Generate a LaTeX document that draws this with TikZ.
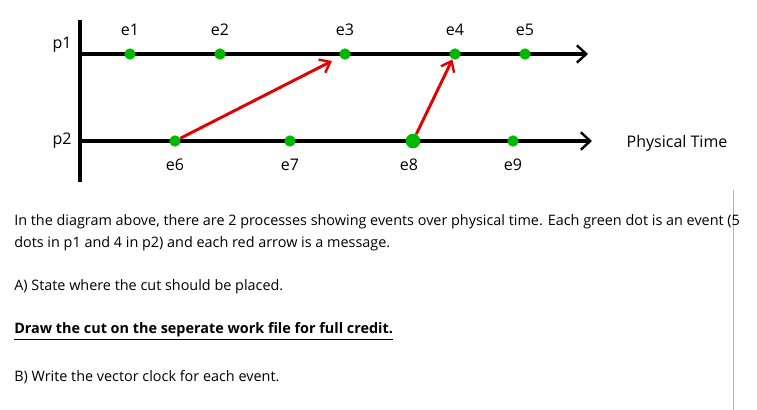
\documentclass[tikz,border=0pt]{standalone}
\usepackage{fontspec}
\setmainfont{Open Sans}
\usetikzlibrary{arrows.meta}
\begin{document}
\begin{tikzpicture}[x=0.75pt,y=-0.75pt,
  proc/.style={line width=2.6pt,-{Straight Barb[length=7pt,width=13pt,line width=1.8pt]}},
  ev/.style={circle,fill=green!65!black!80!green,inner sep=0pt,minimum size=8.5pt},
  msg/.style={red!90!black,line width=2.2pt,-{Straight Barb[length=7pt,width=11pt,line width=1.8pt]}},
  lbl/.style={font=\fontsize{12pt}{14pt}\selectfont},
  txt/.style={anchor=west,font=\fontsize{10.8pt}{13pt}\selectfont,inner sep=0pt}]
\useasboundingbox (0,0) rectangle (757,410);
\draw[line width=3pt] (80,20) -- (80,182);
\node[lbl] (p1) at (62,45) {p1};
\node[lbl] (p2) at (62,141) {p2};
\coordinate (s1) at (80,54); \coordinate (t1) at (588,54);
\coordinate (s2) at (80,141); \coordinate (t2) at (592,141);
\draw[proc] (s1) -- (t1);
\draw[proc] (s2) -- (t2);
\foreach \n/\x in {e1/130,e2/220,e3/345,e4/455,e5/525}{
  \node[ev] (\n) at (\x,54) {};
  \node[lbl] at (\x,30) {\n};}
\foreach \n/\x in {e6/175,e7/290,e9/513}{
  \node[ev] (\n) at (\x,141) {};
  \node[lbl] at (\x,165) {\n};}
\node[ev,minimum size=11pt] (e8) at (413,141) {};
\node[lbl] at (409,165) {e8};
\coordinate (m1) at (332,61);
\draw[msg] (e6) -- (m1);
\draw[msg] (e8) -- (e4);
\node[lbl,anchor=west] (pt) at (622,143) {Physical Time};
\draw[gray!60,line width=0.6pt] (733,190) -- (733,410);
\node[txt] (t1) at (14,222) {In the diagram above, there are 2 processes showing events over physical time. Each green dot is an event (5};
\node[txt] (t2) at (14,244) {dots in p1 and 4 in p2) and each red arrow is a message.};
\node[txt] (t3) at (14,287) {A) State where the cut should be placed.};
\node[txt] (t4) at (14,331) {\bfseries\underline{Draw the cut on the seperate work file for full credit.}};
\node[txt] (t5) at (14,377) {B) Write the vector clock for each event.};
\end{tikzpicture}
\end{document}
